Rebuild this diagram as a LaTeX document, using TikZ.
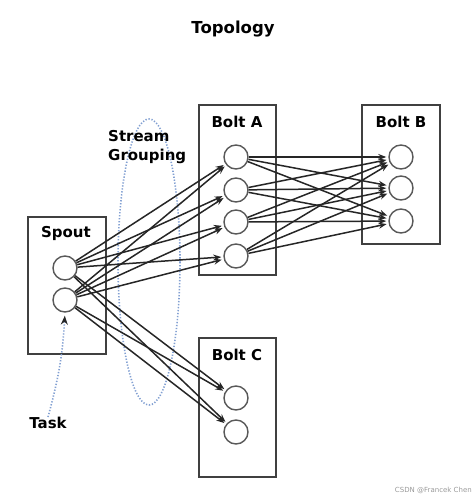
\documentclass[tikz,border=0pt]{standalone}
\usepackage{fontspec}
\setmainfont{DejaVu Sans}
\usetikzlibrary{arrows.meta}
\begin{document}
\begin{tikzpicture}[x=1pt,y=-1pt,
 box/.style={draw=black!75,line width=2pt,inner sep=0},
 tk/.style={circle,draw=black!65,fill=white,line width=1.4pt,minimum size=24pt,inner sep=0},
 lab/.style={font=\bfseries\fontsize{15}{17}\selectfont,inner sep=0},
 flow/.style={draw=black!85,line width=1.5pt,shorten >=2pt,-{Stealth[length=8pt,width=6pt]}},
 grp/.style={draw={rgb,255:red,130;green,160;blue,210},line width=1.6pt,dash pattern=on 1.3pt off 1.7pt},
]
\useasboundingbox (0,0) rectangle (474,499);
% title
\node[font=\bfseries\fontsize{16.5}{19}\selectfont,inner sep=0] (title) at (233,29) {Topology};
% boxes
\node[box,minimum width=78pt,minimum height=137pt] (spout) at (67,285.5) {};
\node[box,minimum width=77pt,minimum height=170pt] (boltA) at (237.5,190) {};
\node[box,minimum width=78pt,minimum height=139pt] (boltB) at (401,174.5) {};
\node[box,minimum width=77pt,minimum height=139pt] (boltC) at (237.5,407.5) {};
\node[lab] (lspout) at (66,233) {Spout};
\node[lab] (la) at (237,122) {Bolt A};
\node[lab] (lb) at (401,122) {Bolt B};
\node[lab] (lc) at (237,355) {Bolt C};
% grouping ellipse
\draw[grp] (149,262) ellipse [x radius=31, y radius=143];
\node[lab,align=left,anchor=north west,font=\bfseries\fontsize{15}{19}\selectfont] (sg) at (108,130) {Stream\\Grouping};
% tasks
\node[tk] (s1) at (65,268) {};
\node[tk] (s2) at (65,300) {};
\node[tk] (a1) at (236,157) {};
\node[tk] (a2) at (236,190) {};
\node[tk] (a3) at (236,222) {};
\node[tk] (a4) at (236,256) {};
\node[tk] (b1) at (401,157) {};
\node[tk] (b2) at (401,188) {};
\node[tk] (b3) at (401,221) {};
\node[tk] (c1) at (236,398) {};
\node[tk] (c2) at (236,432) {};
% flows
\foreach \s in {s1,s2}{
  \foreach \t in {a1,a2,a3,a4,c1,c2}{
    \draw[flow] (\s) -- (\t);
  }
}
\foreach \s in {a1,a2,a3,a4}{
  \foreach \t in {b1,b2,b3}{
    \draw[flow] (\s) -- (\t);
  }
}
% task label
\node[lab] (task) at (48,423) {Task};
\draw[grp,shorten >=3pt,-{Stealth[length=9pt,width=7pt,color=black!85]}] (task.north) to[bend right=6] (s2.south);
% watermark
\node[font=\fontsize{7}{8}\selectfont,text=black!40,anchor=east,inner sep=0] (wm) at (472,490) {CSDN @Francek Chen};
\end{tikzpicture}
\end{document}
